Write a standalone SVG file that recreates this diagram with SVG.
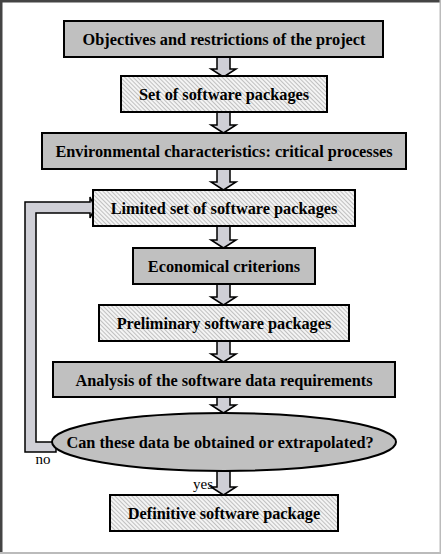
<svg xmlns="http://www.w3.org/2000/svg" width="441" height="554" viewBox="0 0 441 554">
<defs>
<pattern id="hatch" patternUnits="userSpaceOnUse" width="3" height="3" patternTransform="rotate(-45)">
<rect width="3" height="3" fill="#f4f4f4"/>
<line x1="0" y1="0" x2="0" y2="3" stroke="#8c8c8c" stroke-width="1"/>
</pattern>
<style>
.gray{fill:#c0c0c0;stroke:#000;stroke-width:2}
.hat{fill:url(#hatch);stroke:#000;stroke-width:2}
.t{font-family:"Liberation Serif","Times New Roman",serif;font-weight:bold;font-size:16.3px;text-anchor:middle;fill:#000}
.lbl{font-family:"Liberation Serif","Times New Roman",serif;font-size:15px;text-anchor:middle;fill:#000}
.arr{fill:#cfcfd6;stroke:#000;stroke-width:1.5;stroke-linejoin:miter}
</style>
</defs>
<rect x="0" y="0" width="441" height="554" fill="#ffffff"/>
<rect x="0" y="0" width="441" height="2.5" fill="#444"/>
<rect x="0" y="0" width="2.5" height="554" fill="#444"/>
<rect x="0" y="552" width="441" height="2" fill="#bbb"/>
<rect x="439.5" y="0" width="1.5" height="554" fill="#bbb"/>

<g id="connectors">
<polygon class="arr" points="217,57 230,57 230,69 236,69 223.5,77 211,69 217,69"/>
<polygon class="arr" points="217,112 230,112 230,125 236,125 223.5,133 211,125 217,125"/>
<polygon class="arr" points="217,169 230,169 230,182 236,182 223.5,190 211,182 217,182"/>
<polygon class="arr" points="217,226 230,226 230,240 236,240 223.5,248 211,240 217,240"/>
<polygon class="arr" points="217,284 230,284 230,297 236,297 223.5,305 211,297 217,297"/>
<polygon class="arr" points="217,341 230,341 230,354 236,354 223.5,362 211,354 217,354"/>
<polygon class="arr" points="217,397 230,397 230,405 236,405 223.5,413 211,405 217,405"/>
<polygon class="arr" points="217,471 230,471 230,487 236,487 223.5,495 211,487 217,487"/>
<polygon class="arr" points="56,452 25,452 25,202 90,202 90,197 95,207.5 90,218 90,213 36,213 36,442 56,442"/>
<text class="lbl" x="43" y="464">no</text>
<text class="lbl" x="203" y="489">yes</text>
</g>

<g id="n1"><rect class="gray" x="64" y="21" width="319" height="36"/><text class="t" x="224" y="45">Objectives and restrictions of the project</text></g>
<g id="n2"><rect class="hat" x="121" y="76" width="206" height="36"/><text class="t" x="224" y="100">Set of software packages</text></g>
<g id="n3"><rect class="gray" x="42" y="133" width="364" height="36"/><text class="t" x="224" y="157">Environmental characteristics: critical processes</text></g>
<g id="n4"><rect class="hat" x="93" y="190" width="262" height="36"/><text class="t" x="224" y="214">Limited set of software packages</text></g>
<g id="n5"><rect class="gray" x="133" y="248" width="182" height="36"/><text class="t" x="224" y="272">Economical criterions</text></g>
<g id="n6"><rect class="hat" x="99" y="305" width="250" height="36"/><text class="t" x="224" y="329">Preliminary software packages</text></g>
<g id="n7"><rect class="gray" x="53" y="362" width="342" height="35"/><text class="t" x="224" y="386">Analysis of the software data requirements</text></g>
<g id="n8"><ellipse cx="224" cy="442" rx="172" ry="29" fill="#c0c0c0" stroke="#000" stroke-width="2"/><text class="t" x="220" y="448">Can these data be obtained or extrapolated?</text></g>
<g id="n9"><rect class="hat" x="110" y="495" width="228" height="36"/><text class="t" x="224" y="519">Definitive software package</text></g>
</svg>
